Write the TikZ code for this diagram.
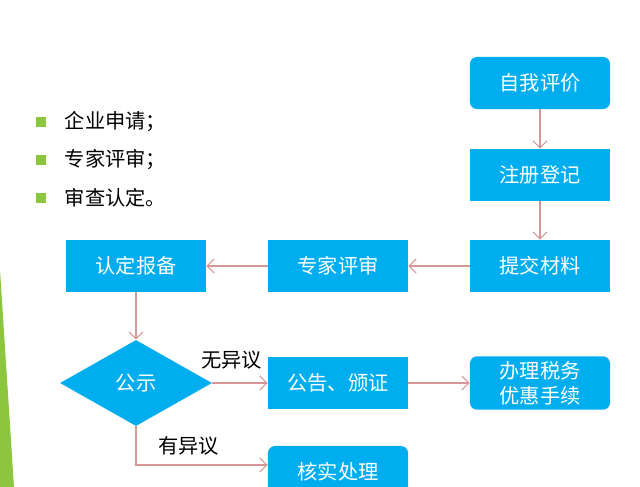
\documentclass[tikz,border=0pt]{standalone}
\usepackage{fontspec}
\newfontfamily\cjk{Noto Sans CJK SC}
\usetikzlibrary{shapes.geometric, arrows.meta}
\definecolor{boxblue}{RGB}{0,174,239}
\definecolor{linkpink}{RGB}{214,150,150}
\definecolor{bulletgreen}{RGB}{140,198,63}
\begin{document}
\begin{tikzpicture}[x=0.025cm, y=-0.025cm,
    font=\cjk,
    box/.style={fill=boxblue, text=white, minimum width=3.5cm, minimum height=1.3cm, align=center, font=\cjk\Large},
    rbox/.style={box, rounded corners=5pt},
    link/.style={draw=linkpink, line width=0.8pt, -{Straight Barb[length=5pt]}}]
    \useasboundingbox (0,0) rectangle (640,487);
    \fill[bulletgreen] (0,270) -- (14,487) -- (0,487) -- cycle;

    \foreach \y/\t in {122/企业申请；, 160/专家评审；, 198/审查认定。} {
        \fill[bulletgreen] (36,\y-5) rectangle (46,\y+5);
        \node[anchor=west, font=\cjk\Large] at (60,\y) {\t};
    }

    \node[rbox] (self) at (540,83) {自我评价};
    \node[box] (reg) at (540,175) {注册登记};
    \node[box] (submit) at (540,266) {提交材料};
    \node[box] (review) at (338,266) {专家评审};
    \node[box] (report) at (136,266) {认定报备};
    \node[diamond, fill=boxblue, text=white, font=\cjk\Large, minimum width=3.8cm, minimum height=2.15cm, inner sep=0pt, aspect=1.8] (notice) at (136,383) {公示};
    \node[box] (cert) at (338,383) {公告、颁证};
    \node[rbox] (tax) at (540,383) {办理税务\\优惠手续};
    \node[rbox] (check) at (338,472) {核实处理};
    \coordinate (corner) at (136,465);

    \draw[link] (self) -- (reg);
    \draw[link] (reg) -- (submit);
    \draw[link] (submit) -- (review);
    \draw[link] (review) -- (report);
    \draw[link] (report) -- (notice);
    \draw[link] (notice) -- node[above, pos=0.35, yshift=6pt, font=\cjk\Large] {无异议} (cert);
    \draw[link] (cert) -- (tax);
    \draw[link] (notice.south) -- (corner) -- node[above, pos=0.4, yshift=3pt, font=\cjk\Large] {有异议} (corner -| check.west);
\end{tikzpicture}
\end{document}
